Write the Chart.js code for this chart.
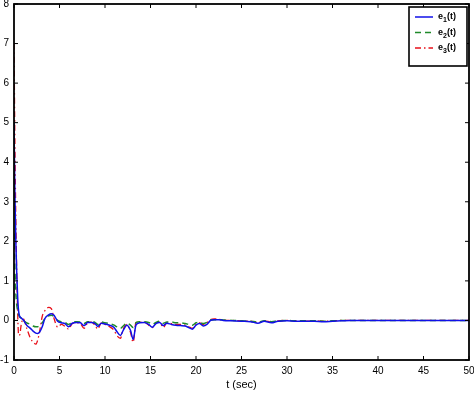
<!DOCTYPE html>
<html>
<head>
<meta charset="utf-8">
<script src="https://cdn.jsdelivr.net/npm/chart.js@4"></script>
<style>
  html, body { margin: 0; padding: 0; background: #fff; }
  #wrap { width: 474px; height: 407px; }
</style>
</head>
<body>
<div id="wrap"><canvas id="my-chart"></canvas></div>
<script>
// time samples (sec)
const times = [0, 0.1, 0.2, 0.3, 0.4, 0.5, 0.6, 0.8, 1.0, 1.4, 1.8, 2.1, 2.4, 2.6, 2.8, 3.1, 3.4, 3.8, 4.1, 4.4,
  4.8, 5.2, 5.6, 6.0, 6.4, 6.9, 7.3, 7.7, 8.1, 8.5, 8.9, 9.2, 9.6, 10.0, 10.5, 11.0, 11.3, 11.7, 12.0, 12.4,
  12.8, 13.1, 13.4, 13.8, 14.3, 14.8, 15.2, 15.6, 16.0, 16.4, 16.8, 17.3, 17.8, 18.3, 18.8, 19.2, 19.6, 20.0, 20.4, 20.8,
  21.2, 21.6, 22.0, 22.5, 23, 24, 25, 26, 26.8, 27.5, 28.3, 29, 30, 31, 32, 33, 34, 35, 36, 37,
  38, 40, 42, 44, 46, 48, 50];

const e1 = [5.0, 3.2, 2.0, 1.2, 0.6, 0.25, 0.12, 0.06, 0.02, -0.12, -0.2, -0.27, -0.32, -0.33, -0.3, -0.16, 0.05, 0.14, 0.17, 0.13,
  -0.02, -0.06, -0.08, -0.16, -0.07, -0.05, -0.06, -0.13, -0.05, -0.05, -0.08, -0.15, -0.07, -0.09, -0.12, -0.18, -0.28, -0.38, -0.25, -0.12,
  -0.25, -0.48, -0.12, -0.06, -0.05, -0.1, -0.17, -0.08, -0.05, -0.13, -0.07, -0.1, -0.12, -0.13, -0.14, -0.18, -0.22, -0.12, -0.08, -0.14,
  -0.1, 0.0, 0.02, 0.02, 0.0, -0.01, -0.02, -0.03, -0.07, -0.02, -0.06, -0.02, -0.01, -0.02, -0.02, -0.02, -0.03, -0.02, -0.01, 0.0,
  0.0, 0.0, 0.0, 0.0, 0.0, 0.0, 0.0];

const e2 = [2.2, 1.3, 0.7, 0.4, 0.25, 0.15, 0.1, 0.05, 0.0, -0.06, -0.1, -0.14, -0.16, -0.16, -0.13, -0.06, 0.05, 0.12, 0.13, 0.1,
  0.0, -0.03, -0.05, -0.1, -0.04, -0.03, -0.04, -0.08, -0.03, -0.03, -0.05, -0.1, -0.04, -0.06, -0.08, -0.12, -0.16, -0.2, -0.14, -0.07,
  -0.12, -0.18, -0.06, -0.03, -0.03, -0.05, -0.1, -0.05, -0.02, -0.07, -0.04, -0.04, -0.06, -0.06, -0.08, -0.1, -0.12, -0.06, -0.05, -0.08,
  -0.05, 0.01, 0.02, 0.02, 0.01, 0.0, -0.01, -0.02, -0.04, -0.01, -0.03, -0.01, 0.0, -0.01, -0.01, -0.01, -0.02, -0.01, 0.0, 0.0,
  0.0, 0.0, 0.0, 0.0, 0.0, 0.0, 0.0];

const e3 = [7.0, 4.5, 2.6, 1.2, 0.2, -0.35, -0.38, -0.1, 0.05, -0.2, -0.45, -0.55, -0.6, -0.5, -0.3, 0.1, 0.25, 0.33, 0.3, 0.05,
  -0.17, -0.1, -0.15, -0.22, -0.08, -0.06, -0.08, -0.2, -0.06, -0.04, -0.12, -0.22, -0.06, -0.1, -0.16, -0.25, -0.38, -0.45, -0.22, -0.1,
  -0.3, -0.55, -0.05, -0.05, -0.04, -0.12, -0.18, -0.06, -0.04, -0.18, -0.06, -0.08, -0.1, -0.1, -0.12, -0.16, -0.2, -0.08, -0.06, -0.1,
  -0.06, 0.02, 0.04, 0.03, 0.01, 0.0, -0.01, -0.02, -0.05, -0.01, -0.04, -0.01, 0.0, -0.01, -0.02, -0.01, -0.02, -0.01, 0.0, 0.0,
  0.0, 0.0, 0.0, 0.0, 0.0, 0.0, 0.0];

const seriesNames = ['e1(t)', 'e2(t)', 'e3(t)'];
const seriesSubs = ['1', '2', '3'];
const seriesColors = ['#1010e8', '#1f8a2a', '#e8101a'];
const seriesDash = [[], [6, 4], [6, 3, 1.5, 3]];

const xMin = 0, xMax = 50, xStep = 5;
const yMin = -1, yMax = 8, yStep = 1;
const xTitle = 't (sec)';

const FONT = '"Liberation Sans", Arial, sans-serif';

function toPoints(vals) {
  return times.map((t, i) => ({ x: t, y: vals[i] }));
}

// let the layout padding alone decide where the plot box sits
function noLabelPadding(scale) {
  scale.paddingTop = 0;
  scale.paddingBottom = 0;
  scale.paddingLeft = 0;
  scale.paddingRight = 0;
}

// frame, inward ticks on all four sides, legend box
const matlabFrame = {
  id: 'matlabFrame',
  afterDraw(chart) {
    const { ctx, chartArea: a, scales } = chart;
    ctx.save();
    ctx.strokeStyle = '#000';
    ctx.lineWidth = 1.8;
    ctx.strokeRect(a.left, a.top, a.right - a.left, a.bottom - a.top);

    ctx.lineWidth = 1;
    const tl = 4;
    ctx.beginPath();
    scales.x.ticks.forEach(tk => {
      const px = scales.x.getPixelForValue(tk.value);
      ctx.moveTo(px, a.bottom); ctx.lineTo(px, a.bottom - tl);
      ctx.moveTo(px, a.top); ctx.lineTo(px, a.top + tl);
    });
    scales.y.ticks.forEach(tk => {
      const py = scales.y.getPixelForValue(tk.value);
      ctx.moveTo(a.left, py); ctx.lineTo(a.left + tl, py);
      ctx.moveTo(a.right, py); ctx.lineTo(a.right - tl, py);
    });
    ctx.stroke();

    // legend
    const bx = a.right - 60, by = a.top + 3, bw = 58, bh = 59;
    ctx.fillStyle = '#fff';
    ctx.fillRect(bx, by, bw, bh);
    ctx.lineWidth = 1.6;
    ctx.strokeRect(bx, by, bw, bh);
    chart.data.datasets.forEach((ds, i) => {
      const ly = by + 10 + i * 15.5;
      ctx.save();
      ctx.strokeStyle = ds.borderColor;
      ctx.lineWidth = ds.borderWidth;
      ctx.setLineDash(ds.borderDash || []);
      ctx.beginPath();
      ctx.moveTo(bx + 6, ly);
      ctx.lineTo(bx + 24, ly);
      ctx.stroke();
      ctx.restore();
      ctx.fillStyle = '#000';
      ctx.textBaseline = 'alphabetic';
      ctx.textAlign = 'left';
      let tx = bx + 29;
      ctx.font = 'bold 9px ' + FONT;
      ctx.fillText('e', tx, ly + 2);
      tx += ctx.measureText('e').width;
      ctx.font = 'bold 7px ' + FONT;
      ctx.fillText(seriesSubs[i], tx, ly + 5);
      tx += ctx.measureText(seriesSubs[i]).width;
      ctx.font = 'bold 9px ' + FONT;
      ctx.fillText('(t)', tx, ly + 2);
    });
    ctx.restore();
  }
};

new Chart(document.getElementById('my-chart'), {
  type: 'line',
  data: {
    datasets: [e1, e2, e3].map((vals, i) => ({
      label: seriesNames[i],
      data: toPoints(vals),
      borderColor: seriesColors[i],
      borderWidth: i === 2 ? 1.3 : 1.5,
      borderDash: seriesDash[i],
      pointRadius: 0,
      fill: false,
      cubicInterpolationMode: 'monotone'
    }))
  },
  options: {
    responsive: true,
    maintainAspectRatio: false,
    animation: false,
    layout: { padding: { top: 4, right: 5, left: 0, bottom: 0 } },
    scales: {
      x: {
        type: 'linear',
        min: xMin,
        max: xMax,
        grid: { display: false, drawTicks: false },
        border: { display: false },
        ticks: { stepSize: xStep, color: '#000', padding: 5, font: { family: FONT, size: 10 } },
        title: { display: true, text: xTitle, color: '#000', padding: { top: 0, bottom: 15 }, font: { family: FONT, size: 11 } },
        afterFit(scale) { scale.height = 47; noLabelPadding(scale); }
      },
      y: {
        min: yMin,
        max: yMax,
        grid: { display: false, drawTicks: false },
        border: { display: false },
        ticks: { stepSize: yStep, color: '#000', padding: 5, font: { family: FONT, size: 10 } },
        afterFit(scale) { scale.width = 14; noLabelPadding(scale); }
      }
    },
    plugins: {
      legend: { display: false },
      tooltip: { enabled: false }
    }
  },
  plugins: [matlabFrame]
});
</script>
</body>
</html>
